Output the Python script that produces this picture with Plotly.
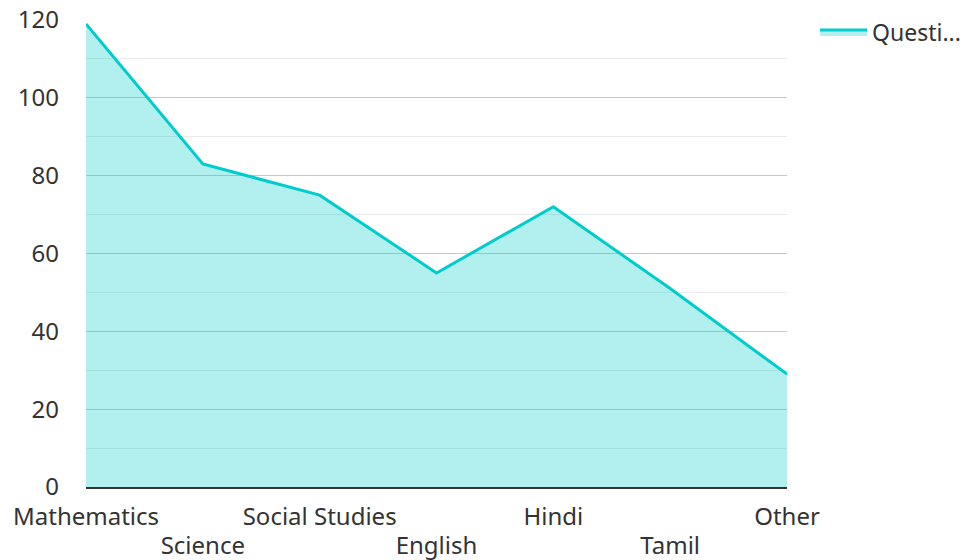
import plotly.graph_objects as go

categories = ["Mathematics", "Science", "Social Studies", "English", "Hindi", "Tamil", "Other"]
values = [119, 83, 75, 55, 72, 51, 29]
series_name = "Questi..."

idx = list(range(len(categories)))
even_idx = [i for i in idx if i % 2 == 0]
odd_idx = [i for i in idx if i % 2 == 1]

fig = go.Figure()
fig.add_trace(go.Scatter(
    x=idx, y=values, mode="lines", name=series_name,
    line=dict(color="#00cccc", width=3),
    fill="tozeroy", fillcolor="rgba(0,204,204,0.3)",
))
# invisible trace to activate the second x axis
fig.add_trace(go.Scatter(x=idx, y=values, xaxis="x2", mode="lines",
                         line=dict(width=0), hoverinfo="skip", showlegend=False, opacity=0))

font = dict(family="Noto Sans, Open Sans, sans-serif", size=24, color="#333333")
legend_font = dict(family="Noto Sans, Open Sans, sans-serif", size=23, color="#333333")

fig.update_layout(
    width=961, height=552,
    margin=dict(l=78, r=182, t=12, b=73, autoexpand=False),
    paper_bgcolor="white", plot_bgcolor="white",
    font=font,
    showlegend=True,
    legend=dict(x=1.04, y=1.02, xanchor="left", yanchor="top", font=legend_font,
                itemwidth=47, bgcolor="rgba(0,0,0,0)"),
    xaxis=dict(
        range=[0, 6], tickmode="array", automargin=False,
        tickvals=even_idx, ticktext=[categories[i] for i in even_idx],
        showgrid=False, zeroline=False,
        showline=True, linecolor="#333333", linewidth=2,
        ticks="", ticklabelstandoff=7, tickfont=font, ticklabeloverflow="allow",
    ),
    xaxis2=dict(
        range=[0, 6], overlaying="x", side="bottom", tickmode="array", automargin=False,
        tickvals=odd_idx, ticktext=[categories[i] for i in odd_idx],
        showgrid=False, zeroline=False, showline=False,
        ticks="", ticklabelstandoff=42, tickfont=font, ticklabeloverflow="allow",
    ),
    yaxis=dict(
        range=[0, 120], dtick=20, tick0=0, automargin=False,
        showgrid=True, gridcolor="#c8c8c8", gridwidth=1,
        minor=dict(dtick=10, showgrid=True, gridcolor="#ebebeb", gridwidth=1),
        zeroline=False, showline=False, ticks="",
        ticklabelstandoff=26, tickfont=font, ticklabeloverflow="allow",
    ),
)

fig.write_html("out.html")
